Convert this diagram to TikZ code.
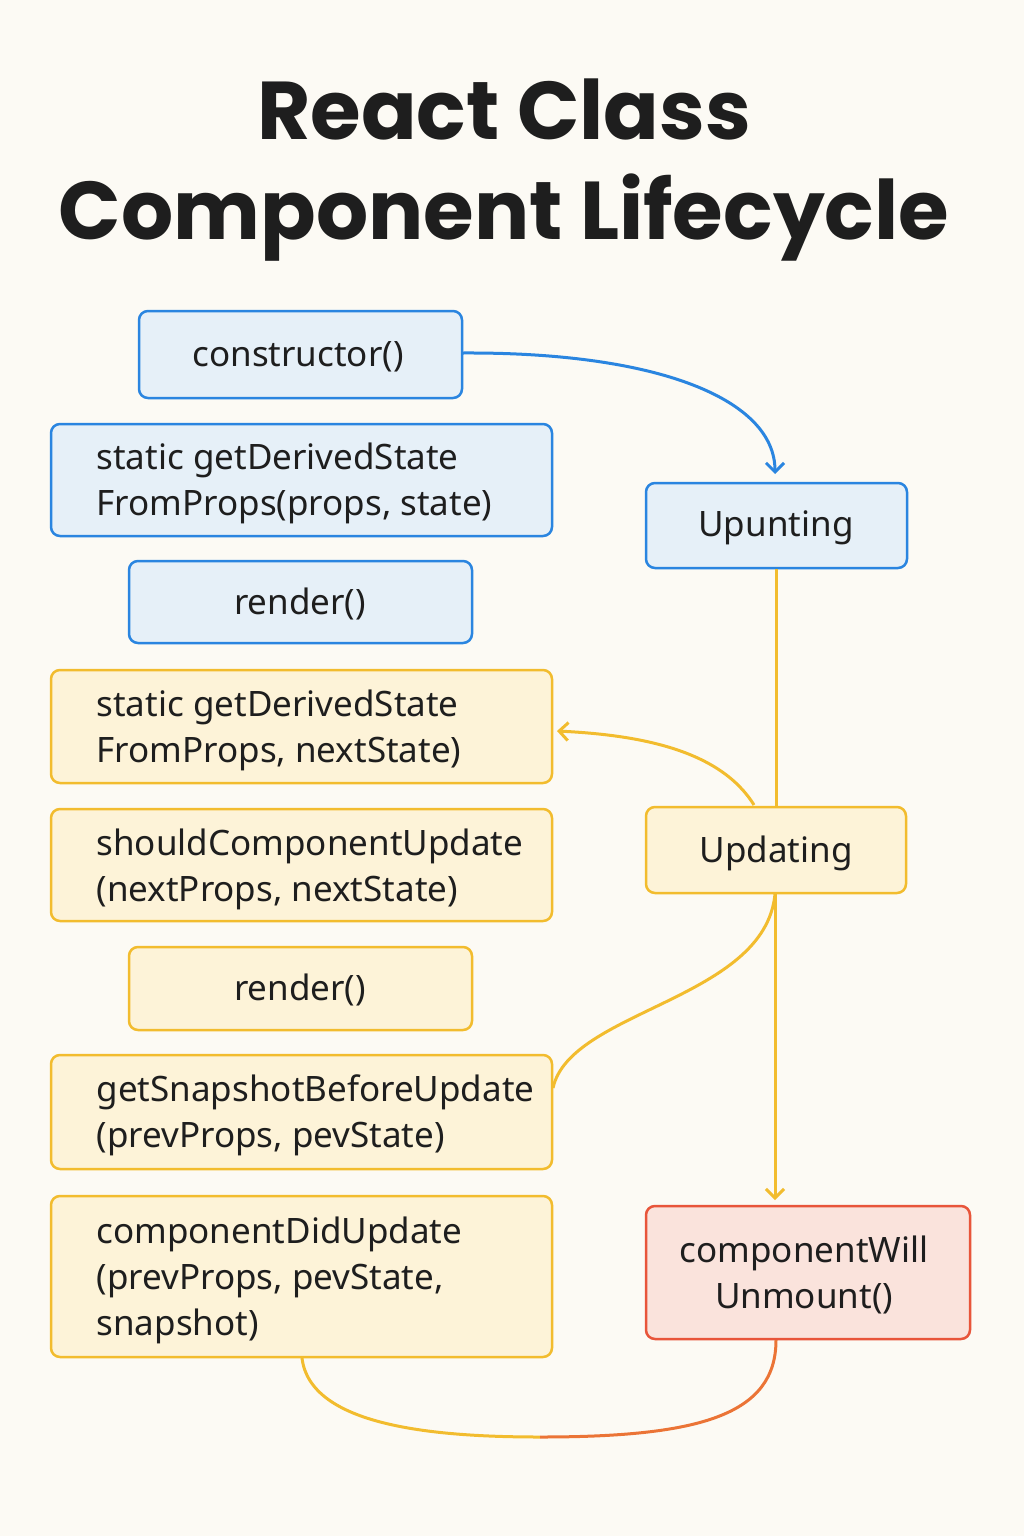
\documentclass[tikz,border=0pt]{standalone}
\usepackage{fontspec}
\setmainfont{Noto Sans}
\newfontfamily\titlefont{Poppins}
\usetikzlibrary{arrows.meta}
\definecolor{bg}{HTML}{FCFAF4}
\definecolor{bluel}{HTML}{2A85E0}
\definecolor{bluef}{HTML}{E6F0F8}
\definecolor{yell}{HTML}{F2BC2E}
\definecolor{yelf}{HTML}{FDF3D8}
\definecolor{redl}{HTML}{E8553A}
\definecolor{redf}{HTML}{FAE3DC}
\definecolor{ink}{HTML}{1E1E1E}
\begin{document}
\begin{tikzpicture}[x=1pt,y=-1pt,
  box/.style={draw, line width=2.5pt, rounded corners=9pt, inner sep=0pt},
  bb/.style={box, draw=bluel, fill=bluef},
  yb/.style={box, draw=yell, fill=yelf},
  rb/.style={box, draw=redl, fill=redf},
  txt/.style={font=\fontsize{35}{46}\selectfont, text=ink, align=left},
  ctxt/.style={font=\fontsize{35}{46}\selectfont, text=ink, align=center},
  con/.style={line width=3pt},
  arr/.style={con, -{Straight Barb[length=9pt,width=18pt,line width=3pt]}}]
\fill[bg] (0,0) rectangle (1024,1536);
\useasboundingbox (0,0) rectangle (1024,1536);
\node[font=\titlefont\bfseries\fontsize{82}{100}\selectfont, text=ink, align=center] (title) at (504,170) {React Class\\Component Lifecycle};
% blue
\path[bb] (139,311) rectangle (462,398);
\node[ctxt] (c1) at (298,357) {constructor()};
\path[bb] (51,424) rectangle (552,536);
\node[txt, anchor=west] (c2) at (93,483) {static getDerivedState\\FromProps(props, state)};
\path[bb] (129,561) rectangle (472,643);
\node[ctxt] (c3) at (300,604) {render()};
\path[bb] (646,483) rectangle (907,568);
\node[ctxt] (up) at (776,528) {Upunting};
% yellow
\path[yb] (51,670) rectangle (552,783);
\node[txt, anchor=west] (y1) at (93,730) {static getDerivedState\\FromProps, nextState)};
\path[yb] (51,809) rectangle (552,921);
\node[txt, anchor=west] (y2) at (93,869) {shouldComponentUpdate\\(nextProps, nextState)};
\path[yb] (129,947) rectangle (472,1030);
\node[ctxt] (y3) at (300,990) {render()};
\path[yb] (51,1055) rectangle (552,1169);
\node[txt, anchor=west] (y4) at (93,1115) {getSnapshotBeforeUpdate\\(prevProps, pevState)};
\path[yb] (51,1196) rectangle (552,1357);
\node[txt, anchor=west] (y5) at (93,1280) {componentDidUpdate\\(prevProps, pevState,\\snapshot)};
\path[yb] (646,807) rectangle (906,893);
\node[ctxt] (ud) at (776,853) {Updating};
\path[rb] (646,1206) rectangle (970,1339);
\node[ctxt] (wu) at (804,1275) {componentWill\\Unmount()};
% coordinates
\coordinate (cR) at (463,353);
\coordinate (upT) at (775,474);
\coordinate (upB) at (776,569);
\coordinate (udT) at (776,806);
\coordinate (udTL) at (754,805);
\coordinate (y1R) at (557,731);
\coordinate (udB) at (775,894);
\coordinate (wuT) at (775,1200);
\coordinate (y4R) at (553,1088);
\coordinate (y5B) at (302,1358);
\coordinate (mid) at (540,1437);
\coordinate (wuB) at (776,1340);
% connectors
\draw[arr, bluel] (cR) .. controls (660,352) and (775,400) .. (upT);
\draw[con, yell] (upB) -- (udT);
\draw[arr, yell] (udTL) .. controls (720,750) and (640,735) .. (y1R);
\draw[arr, yell] (udB) -- (wuT);
\draw[con, yell] (udB) .. controls (765,1000) and (570,1010) .. (y4R);
\draw[con, yell] (y5B) .. controls (310,1425) and (430,1437) .. (mid);
\draw[con, redl!70!yell] (mid) .. controls (700,1437) and (776,1415) .. (wuB);
\end{tikzpicture}
\end{document}
